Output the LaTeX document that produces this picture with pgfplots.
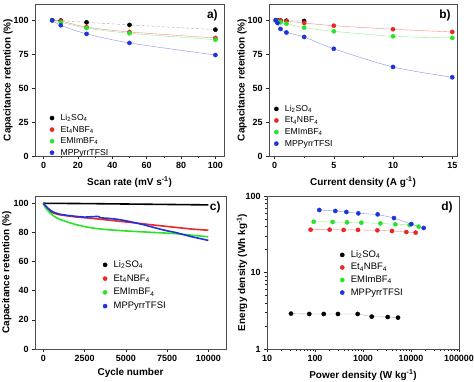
\documentclass[border=0pt]{standalone}
\usepackage{fontspec}
\setmainfont{Liberation Sans}
\usepackage{pgfplots}
\pgfplotsset{compat=1.18}

\definecolor{cRed}{RGB}{232,40,40}
\definecolor{cGreen}{RGB}{40,228,40}
\definecolor{cBlue}{RGB}{30,50,222}

\pgfplotsset{
 myaxis/.style={
  scale only axis,
  axis line style={black!70, line width=0.6pt},
  tick align=outside,
  tick style={black!85, line width=0.5pt},
  major tick length=3pt, minor tick length=1.8pt,
  xtick pos=bottom, ytick pos=left,
  ticklabel style={font=\fontsize{9}{10}\selectfont\bfseries},
  /pgf/number format/assume math mode=true,
  label style={font=\fontsize{10}{12}\selectfont\bfseries},
  legend cell align=left,
  legend style={draw=none, fill=none, inner sep=0pt, column sep=6pt,
    nodes={inner sep=0.5pt, text height=0.72em, text depth=0.22em}},
  legend image code/.code={\draw[#1] plot coordinates {(0cm,0cm)};},
 },
 pl/.style={thin, smooth, forget plot, opacity=0.55},
 mk/.style={only marks, mark=*, mark size=2.1pt},
}

\begin{document}
\begin{tikzpicture}
\useasboundingbox (0,0) rectangle (474bp,382bp);

% ---------------- a ----------------
\begin{axis}[myaxis, at={(35bp,226bp)}, anchor=south west,
  width=189bp, height=152bp,
  xmin=-5, xmax=105, ymin=0, ymax=112,
  xtick={0,20,40,60,80,100}, ytick={0,25,50,75,100},
  minor x tick num=1,
  xlabel={Scan rate (mV s\textsuperscript{-1})},
  ylabel={Capacitance retention (\%)},
  xlabel style={at={(axis description cs:0.5,-0.171)}, anchor=center},
  ylabel style={at={(axis description cs:-0.143,0.5)}, anchor=center},
  legend style={at={(axis description cs:0.078,0.285)}, anchor=north west,
    font=\fontsize{8.7}{10}\selectfont, row sep=1.2pt},
]
\addplot[pl, black!60, densely dashed] coordinates {(5,100) (10,99.8) (25,98.5) (50,96.6) (100,93.1)};
\addplot[pl, cRed] coordinates {(5,100) (10,99.5) (25,95) (50,91.4) (100,87)};
\addplot[pl, cGreen] coordinates {(5,100) (10,98.5) (25,94.3) (50,90.4) (100,85.7)};
\addplot[pl, cBlue] coordinates {(5,100) (10,96.3) (25,90) (50,83.3) (100,74.4)};
\addplot[mk, black] coordinates {(5,100) (10,99.8) (25,98.5) (50,96.6) (100,93.1)};
\addplot[mk, cRed] coordinates {(5,100) (10,99.5) (25,95) (50,91.4) (100,87)};
\addplot[mk, cGreen] coordinates {(5,100) (10,98.5) (25,94.3) (50,90.4) (100,85.7)};
\addplot[mk, cBlue] coordinates {(5,100) (10,96.3) (25,90) (50,83.3) (100,74.4)};
\legend{Li\textsubscript{2}SO\textsubscript{4}, Et\textsubscript{4}NBF\textsubscript{4}, EMImBF\textsubscript{4}, MPPyrrTFSI}
\node[anchor=north east, font=\fontsize{12}{14}\selectfont\bfseries] at (rel axis cs:0.985,0.985) {a)};
\end{axis}

% ---------------- b ----------------
\begin{axis}[myaxis, at={(269bp,226bp)}, anchor=south west,
  width=188bp, height=152bp,
  xmin=-0.47, xmax=15.4, ymin=0, ymax=112,
  xtick={0,5,10,15}, ytick={0,25,50,75,100},
  minor x tick num=1,
  xlabel={Current density (A g\textsuperscript{-1})},
  ylabel={Capacitance retention (\%)},
  xlabel style={at={(axis description cs:0.5,-0.171)}, anchor=center},
  ylabel style={at={(axis description cs:-0.144,0.5)}, anchor=center},
  legend style={at={(axis description cs:0.027,0.345)}, anchor=north west,
    font=\fontsize{8.7}{10}\selectfont, row sep=1.2pt},
]
\addplot[pl, black!60, densely dashed] coordinates {(0.1,100) (0.25,100) (0.5,99.8) (1,99.7) (2.5,99.5)};
\addplot[pl, cRed] coordinates {(0.1,100) (0.25,99.8) (0.5,99.7) (1,99.3) (2.5,98) (5,96) (10,93.4) (15,91.4)};
\addplot[pl, cGreen] coordinates {(0.1,100) (0.25,98.8) (0.5,98.5) (1,97.5) (2.5,94.6) (5,91.9) (10,88.2) (15,87)};
\addplot[pl, cBlue] coordinates {(0.1,100) (0.25,98) (0.5,93.6) (1,91) (2.5,87.7) (5,79) (10,65.6) (15,58)};
\addplot[mk, black] coordinates {(0.1,100) (0.25,100) (0.5,99.8) (1,99.7) (2.5,99.5)};
\addplot[mk, cRed] coordinates {(0.1,100) (0.25,99.8) (0.5,99.7) (1,99.3) (2.5,98) (5,96) (10,93.4) (15,91.4)};
\addplot[mk, cGreen] coordinates {(0.1,100) (0.25,98.8) (0.5,98.5) (1,97.5) (2.5,94.6) (5,91.9) (10,88.2) (15,87)};
\addplot[mk, cBlue] coordinates {(0.1,100) (0.25,98) (0.5,93.6) (1,91) (2.5,87.7) (5,79) (10,65.6) (15,58)};
\legend{Li\textsubscript{2}SO\textsubscript{4}, Et\textsubscript{4}NBF\textsubscript{4}, EMImBF\textsubscript{4}, MPPyrrTFSI}
\node[anchor=north east, font=\fontsize{12}{14}\selectfont\bfseries] at (rel axis cs:0.985,0.985) {b)};
\end{axis}

% ---------------- c ----------------
\begin{axis}[myaxis, at={(35bp,33bp)}, anchor=south west,
  width=191bp, height=153bp,
  xmin=-500, xmax=11070, ymin=0, ymax=105,
  xtick={0,2500,5000,7500,10000}, xticklabels={0,2500,5000,7500,10000},
  scaled x ticks=false,
  ytick={0,20,40,60,80,100},
  xlabel={Cycle number},
  ylabel={Capacitance retention (\%)},
  xlabel style={at={(axis description cs:0.5,-0.157)}, anchor=center},
  ylabel style={at={(axis description cs:-0.147,0.5)}, anchor=center},
  legend style={at={(axis description cs:0.355,0.585)}, anchor=north west,
    font=\fontsize{9.5}{11}\selectfont, row sep=3.4pt},
]
\addplot[black, line width=1.6pt, forget plot] coordinates {(0,100) (2500,99.8) (5000,99.5) (7500,99.2) (10000,98.9)};
\addplot[cRed, line width=1.6pt, forget plot] coordinates {
(0,100) (100,98) (200,96.5) (400,94.5) (600,93.4) (800,92.6) (1000,92.1) (1500,91.3) (2000,90.6) (2500,90.1) (3000,89.6) (3500,89) (4000,88.4) (4500,87.8) (5000,87.2) (5500,86.6) (6000,86) (6500,85.3) (7000,84.7) (7500,84.1) (8000,83.5) (8500,82.9) (9000,82.3) (9500,81.9) (10000,81.5)};
\addplot[cGreen, line width=1.6pt, forget plot] coordinates {
(0,100) (100,97.8) (200,96) (400,93.5) (600,91.5) (800,90.1) (1000,89) (1500,87) (2000,85.3) (2500,84) (3000,83) (3500,82.3) (4000,81.8) (5000,81) (6000,80.4) (7000,79.8) (8000,79.2) (9000,78.1) (10000,77)};
\addplot[cBlue, line width=1.6pt, forget plot] coordinates {
(0,100) (100,98.8) (200,97.5) (400,95.5) (600,94) (800,93.2) (1000,92.5) (1500,91.6) (2000,91) (2500,90.5) (3000,90.8) (3300,91) (3500,90) (4000,89.6) (4500,89) (5000,88) (5500,86.8) (6000,85.5) (6500,84) (7000,82.5) (7500,81.1) (8000,80) (8500,78.5) (9000,77) (9500,75.8) (10000,74.5)};
\addlegendimage{mk, black}
\addlegendimage{mk, cRed}
\addlegendimage{mk, cGreen}
\addlegendimage{mk, cBlue}
\legend{Li\textsubscript{2}SO\textsubscript{4}, Et\textsubscript{4}NBF\textsubscript{4}, EMImBF\textsubscript{4}, MPPyrrTFSI}
\node[anchor=north east, font=\fontsize{12}{14}\selectfont\bfseries] at (rel axis cs:0.99,0.985) {c)};
\end{axis}

% ---------------- d ----------------
\begin{axis}[myaxis, at={(267bp,33bp)}, anchor=south west,
  width=192bp, height=153bp,
  xmode=log, ymode=log,
  xmin=10, xmax=100000, ymin=1, ymax=100,
  xtick={10,100,1000,10000,100000}, xticklabels={10,100,1000,10000,100000},
  ytick={1,10,100}, yticklabels={1,10,100},
  xlabel={Power density (W kg\textsuperscript{-1})},
  ylabel={Energy density (Wh kg\textsuperscript{-1})},
  xlabel style={at={(axis description cs:0.5,-0.17)}, anchor=center},
  ylabel style={at={(axis description cs:-0.13,0.5)}, anchor=center},
  legend style={at={(axis description cs:0.38,0.65)}, anchor=north west,
    font=\fontsize{9.5}{11}\selectfont, row sep=2.2pt},
]
\addplot[pl, black!60, sharp plot] coordinates {(31.6,2.9) (76,2.87) (152,2.87) (301,2.87) (774,2.87) (1520,2.65) (3270,2.62) (5360,2.57)};
\addplot[pl, cRed, sharp plot] coordinates {(81,36.3) (202,36.3) (395,36) (787,36) (1990,35.6) (4020,34.9) (8000,33.8) (12500,33.2)};
\addplot[pl, cGreen, sharp plot] coordinates {(94,46.1) (233,45.7) (464,45.3) (923,44.8) (2300,43.9) (4720,42.6) (9380,41.8) (14460,39.8)};
\addplot[pl, cBlue, sharp plot] coordinates {(123,65.6) (265,63.7) (450,61.8) (800,59.3) (2020,57.5) (4420,51.5) (10160,43) (18400,38.2)};
\addplot[mk, black] coordinates {(31.6,2.9) (76,2.87) (152,2.87) (301,2.87) (774,2.87) (1520,2.65) (3270,2.62) (5360,2.57)};
\addplot[mk, cRed] coordinates {(81,36.3) (202,36.3) (395,36) (787,36) (1990,35.6) (4020,34.9) (8000,33.8) (12500,33.2)};
\addplot[mk, cGreen] coordinates {(94,46.1) (233,45.7) (464,45.3) (923,44.8) (2300,43.9) (4720,42.6) (9380,41.8) (14460,39.8)};
\addplot[mk, cBlue] coordinates {(123,65.6) (265,63.7) (450,61.8) (800,59.3) (2020,57.5) (4420,51.5) (10160,43) (18400,38.2)};
\legend{Li\textsubscript{2}SO\textsubscript{4}, Et\textsubscript{4}NBF\textsubscript{4}, EMImBF\textsubscript{4}, MPPyrrTFSI}
\node[anchor=north east, font=\fontsize{12}{14}\selectfont\bfseries] at (rel axis cs:0.985,0.985) {d)};
\end{axis}
\end{tikzpicture}
\end{document}
